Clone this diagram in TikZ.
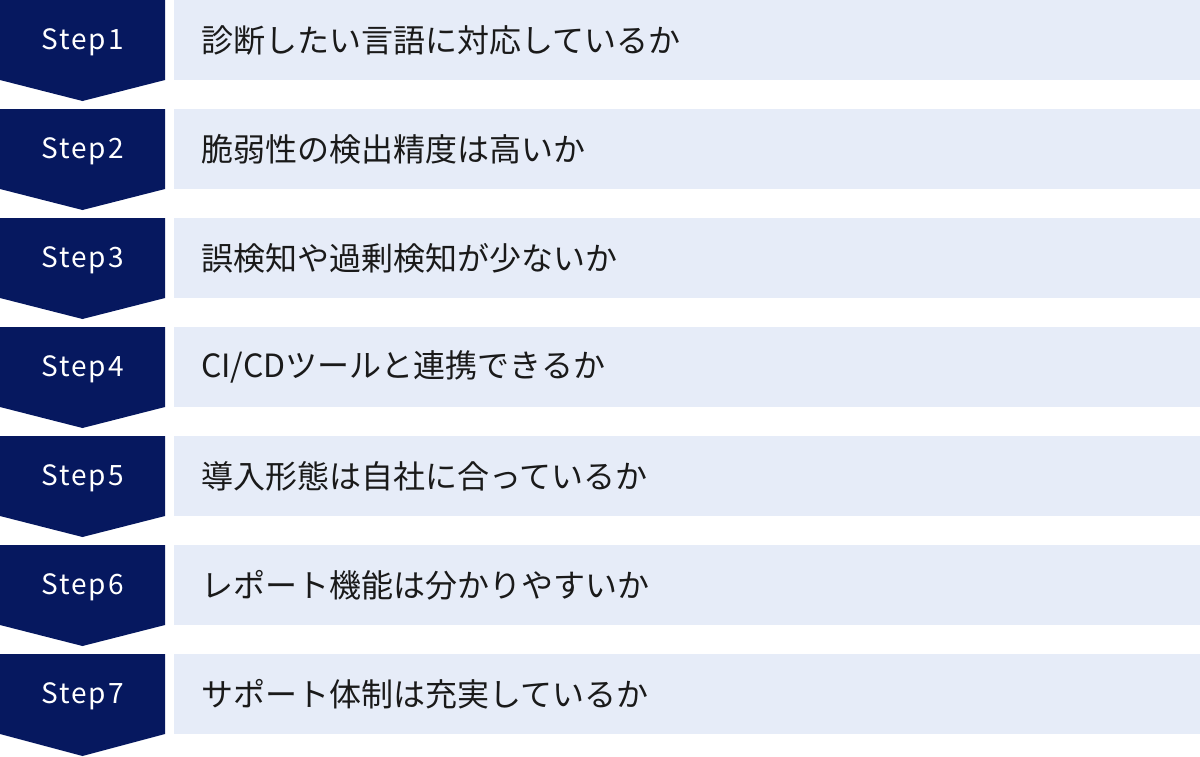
\documentclass[tikz,border=0pt]{standalone}
\usepackage{fontspec}
\setmainfont{Noto Sans CJK JP}
\newfontfamily\stepfont[LetterSpace=7]{Noto Sans CJK JP}
\definecolor{navy}{HTML}{06185F}
\definecolor{pale}{HTML}{E6ECF8}
\definecolor{ink}{HTML}{1A1A1A}

\begin{document}
\begin{tikzpicture}[x=1pt, y=-1pt,
    badge/.style={fill=navy},
    steplabel/.style={text=white, font=\stepfont\fontsize{28}{32}\selectfont},
    card/.style={anchor=north west, fill=pale, minimum width=1026pt,
      minimum height=80pt, text width=972pt, inner xsep=27pt, inner ysep=0pt,
      align=left, text=ink, font=\fontsize{32}{36}\selectfont}]
  \useasboundingbox (0, 0) rectangle (1200, 756);

  \fill[badge] (0,   0) -- (165,   0) -- (165,  80) -- (82.5, 101) -- (0,  80) -- cycle;
  \fill[badge] (0, 109) -- (165, 109) -- (165, 189) -- (82.5, 210) -- (0, 189) -- cycle;
  \fill[badge] (0, 218) -- (165, 218) -- (165, 298) -- (82.5, 319) -- (0, 298) -- cycle;
  \fill[badge] (0, 327) -- (165, 327) -- (165, 407) -- (82.5, 428) -- (0, 407) -- cycle;
  \fill[badge] (0, 436) -- (165, 436) -- (165, 516) -- (82.5, 537) -- (0, 516) -- cycle;
  \fill[badge] (0, 545) -- (165, 545) -- (165, 625) -- (82.5, 646) -- (0, 625) -- cycle;
  \fill[badge] (0, 654) -- (165, 654) -- (165, 734) -- (82.5, 756) -- (0, 734) -- cycle;

  \node[steplabel] (s1) at (82.5,  42) {Step1};
  \node[steplabel] (s2) at (82.5, 151) {Step2};
  \node[steplabel] (s3) at (82.5, 260) {Step3};
  \node[steplabel] (s4) at (82.5, 369) {Step4};
  \node[steplabel] (s5) at (82.5, 478) {Step5};
  \node[steplabel] (s6) at (82.5, 587) {Step6};
  \node[steplabel] (s7) at (82.5, 696) {Step7};

  \node[card] (c1) at (174,   0) {診断したい言語に対応しているか};
  \node[card] (c2) at (174, 109) {脆弱性の検出精度は高いか};
  \node[card] (c3) at (174, 218) {誤検知や過剰検知が少ないか};
  \node[card] (c4) at (174, 327) {CI/CDツールと連携できるか};
  \node[card] (c5) at (174, 436) {導入形態は自社に合っているか};
  \node[card] (c6) at (174, 545) {レポート機能は分かりやすいか};
  \node[card] (c7) at (174, 654) {サポート体制は充実しているか};

\end{tikzpicture}
\end{document}
